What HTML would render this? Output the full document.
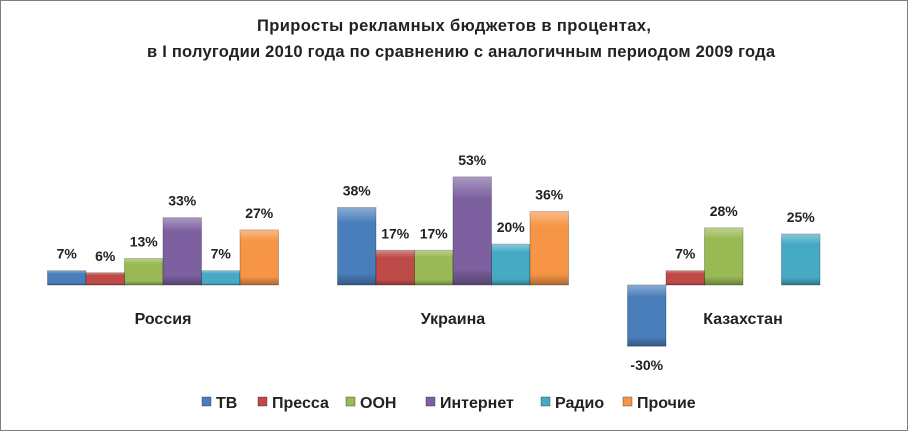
<!DOCTYPE html>
<html><head><meta charset="utf-8"><style>
body{margin:0;background:#fff}
svg{display:block;font-family:"Liberation Sans","DejaVu Sans",sans-serif}
</style></head><body>
<svg id="c" width="908" height="431">
<defs>
<linearGradient id="sh" x1="0" y1="0" x2="0" y2="1"><stop offset="0" stop-color="#fff" stop-opacity="0.35"/><stop offset="0.2" stop-color="#fff" stop-opacity="0"/><stop offset="0.85" stop-color="#000" stop-opacity="0"/><stop offset="1" stop-color="#000" stop-opacity="0.3"/></linearGradient>
</defs>
<rect x="0.5" y="0.5" width="907" height="430" fill="#fff" stroke="#7f7f7f"/>
<text x="454" y="31" text-anchor="middle" font-size="16.5" font-weight="bold" fill="#222" textLength="394">Приросты рекламных бюджетов в процентах,</text>
<text x="461" y="57" text-anchor="middle" font-size="16.5" font-weight="bold" fill="#222" textLength="628">в I полугодии 2010 года по сравнению с аналогичным периодом 2009 года</text>
<g id="bars"></g>
<g id="legend"></g>
</svg>
<script>
const categories=["Россия","Украина","Казахстан"];
const seriesNames=["ТВ","Пресса","ООН","Интернет","Радио","Прочие"];
const tv=[7,38,-30];
const pressa=[6,17,7];
const ooh=[13,17,28];
const internet=[33,53,null];
const radio=[7,20,25];
const other=[27,36,null];
const series=[tv,pressa,ooh,internet,radio,other];
const colors=["#4a7ebb","#be4b48","#98b954","#7d60a0","#46aac5","#f69546"];
const NS="http://www.w3.org/2000/svg";
const base=285,k=2.04,left=18,catW=290,barW=38.5;
function y(v){return base-v*k;}
function mk(tag,attrs,parent){const e=document.createElementNS(NS,tag);for(const a in attrs)e.setAttribute(a,attrs[a]);parent.appendChild(e);return e;}
const g=document.getElementById('bars');
categories.forEach((c,ci)=>{
  const cx=left+catW*ci+catW/2;
  const x0=cx-barW*3;
  series.forEach((s,si)=>{
    const v=s[ci]; if(v===null)return;
    const x=x0+si*barW, top=Math.min(y(v),base), h=Math.abs(y(v)-base);
    const r=mk('rect',{x:x,y:top,width:barW,height:h,fill:colors[si],stroke:"rgba(0,0,0,0.25)","stroke-width":1},g);
    
    
    const o=mk('rect',{x:x,y:top,width:barW,height:h,fill:"url(#sh)"},g);
    
    
    const ly=v>=0?y(v)-12:y(v)+24;
    const t=mk('text',{x:x+barW/2,y:ly,"text-anchor":"middle","font-size":14,"font-weight":"bold",fill:"#222"},g);
    t.textContent=v+'%';
    
    
  });
  const t=mk('text',{x:cx,y:324,"text-anchor":"middle","font-size":16,"font-weight":"bold",fill:"#222"},g);
  t.textContent=c;
  
  
});
const lg=document.getElementById('legend');
const lx=[202,258,346,426,541,623];
seriesNames.forEach((n,i)=>{
  const r=mk('rect',{x:lx[i],y:397,width:9,height:9,fill:colors[i],stroke:"rgba(0,0,0,0.3)"},lg);
  
  
  const t=mk('text',{x:lx[i]+14,y:408,"font-size":16,"font-weight":"bold",fill:"#222"},lg);
  t.textContent=n;
  
  
});
</script>
</body></html>
